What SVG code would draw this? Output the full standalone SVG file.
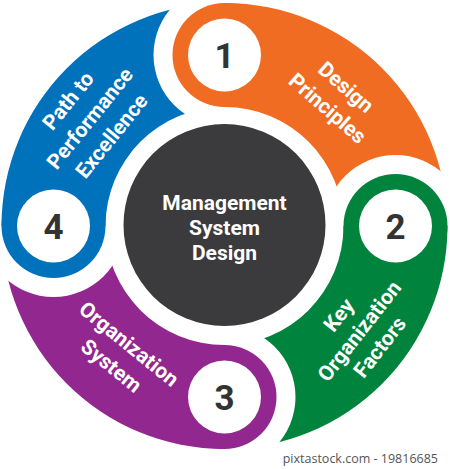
<svg xmlns="http://www.w3.org/2000/svg" width="450" height="469" viewBox="0 0 450 469">
  <style>
    .lbl { font-family: Roboto, "Liberation Sans", sans-serif; font-weight: 700; font-size: 21px; fill: #ffffff; text-anchor: middle; }
    .num { font-family: Roboto, "Liberation Sans", sans-serif; font-weight: 700; font-size: 35px; fill: #333333; text-anchor: middle; }
    .inner { fill: #ffffff; }
  </style>
  <defs>
    <mask id="g1" maskUnits="userSpaceOnUse" x="0" y="0" width="450" height="469">
      <rect x="0" y="0" width="450" height="469" fill="#fff"/>
      <circle cx="224.5" cy="55" r="71" fill="#000"/>
    </mask>
    <mask id="g2" maskUnits="userSpaceOnUse" x="0" y="0" width="450" height="469">
      <rect x="0" y="0" width="450" height="469" fill="#fff"/>
      <circle cx="395.5" cy="226" r="71" fill="#000"/>
    </mask>
    <mask id="g3" maskUnits="userSpaceOnUse" x="0" y="0" width="450" height="469">
      <rect x="0" y="0" width="450" height="469" fill="#fff"/>
      <circle cx="224.5" cy="397" r="71" fill="#000"/>
    </mask>
    <mask id="g4" maskUnits="userSpaceOnUse" x="0" y="0" width="450" height="469">
      <rect x="0" y="0" width="450" height="469" fill="#fff"/>
      <circle cx="53.5" cy="226" r="71" fill="#000"/>
    </mask>
  </defs>
  <rect x="0" y="0" width="450" height="469" fill="#ffffff"/>

  <g id="connectors"></g>

  <g id="segment-1">
    <path d="M224.5,3 A223,223 0 0 1 447.5,226 L343.5,226 A119,119 0 0 0 224.5,107 Z" fill="#F06C22" mask="url(#g2)"/>
    <circle cx="224.5" cy="55" r="52" fill="#F06C22"/>
    <circle class="inner" cx="224.5" cy="55" r="36.5"/>
    <text class="num" x="224.5" y="67.5">1</text>
    <g transform="translate(336.6,98) rotate(41)">
      <text class="lbl" x="0" y="-7">Design</text>
      <text class="lbl" x="0" y="21">Principles</text>
    </g>
  </g>

  <g id="segment-2">
    <path d="M447.5,226 A223,223 0 0 1 224.5,449 L224.5,345 A119,119 0 0 0 343.5,226 Z" fill="#00843D" mask="url(#g3)"/>
    <circle cx="395.5" cy="226" r="52" fill="#00843D"/>
    <circle class="inner" cx="395.5" cy="226" r="36.5"/>
    <text class="num" x="395.5" y="238.5">2</text>
    <g transform="translate(359.5,331.2) rotate(-52)">
      <text class="lbl" x="0" y="-19">Key</text>
      <text class="lbl" x="0" y="7">Organization</text>
      <text class="lbl" x="0" y="33">Factors</text>
    </g>
  </g>

  <g id="segment-3">
    <path d="M224.5,449 A223,223 0 0 1 1.5,226 L105.5,226 A119,119 0 0 0 224.5,345 Z" fill="#92278F" mask="url(#g4)"/>
    <circle cx="224.5" cy="397" r="52" fill="#92278F"/>
    <circle class="inner" cx="224.5" cy="397" r="36.5"/>
    <text class="num" x="224.5" y="409.5">3</text>
    <g transform="translate(120,355) rotate(39)">
      <text class="lbl" x="0" y="-7">Organization</text>
      <text class="lbl" x="0" y="21">System</text>
    </g>
  </g>

  <g id="segment-4">
    <path d="M1.5,226 A223,223 0 0 1 224.5,3 L224.5,107 A119,119 0 0 0 105.5,226 Z" fill="#0072BC" mask="url(#g1)"/>
    <circle cx="53.5" cy="226" r="52" fill="#0072BC"/>
    <circle class="inner" cx="53.5" cy="226" r="36.5"/>
    <text class="num" x="53.5" y="238.5">4</text>
    <g transform="translate(90,118.5) rotate(-51)">
      <text class="lbl" x="0" y="-21">Path to</text>
      <text class="lbl" x="0" y="7">Performance</text>
      <text class="lbl" x="0" y="35">Excellence</text>
    </g>
  </g>

  <g id="center">
    <circle cx="224.5" cy="225" r="101" fill="#3B3B3D"/>
    <text class="lbl" x="224.5" y="210">Management</text>
    <text class="lbl" x="224.5" y="235">System</text>
    <text class="lbl" x="224.5" y="260">Design</text>
  </g>

  <text x="438" y="463" text-anchor="end" font-family="'Open Sans', sans-serif" font-size="12.5" fill="#555555">pixtastock.com - 19816685</text>
</svg>
